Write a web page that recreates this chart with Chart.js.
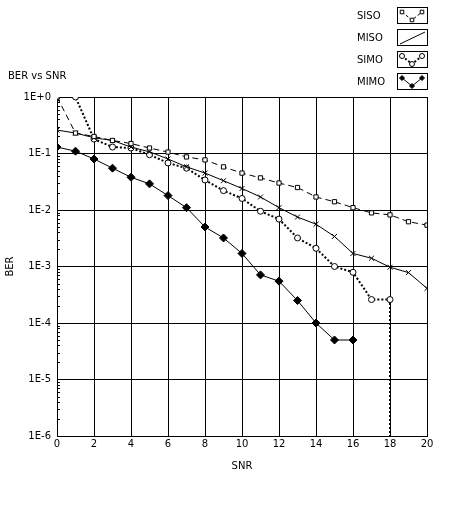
<!DOCTYPE html>
<html><head>
<script src="https://cdn.jsdelivr.net/npm/chart.js@4.4.1/dist/chart.umd.min.js"></script>
<style>body{margin:0;background:#fff}#wrap{width:452px;height:506px;position:relative}</style>
</head><body>
<div id="wrap"><canvas id="c" width="452" height="506"></canvas></div>
<script>
const snr = [0,1,2,3,4,5,6,7,8,9,10,11,12,13,14,15,16,17,18,19,20];
const siso = [1,0.23,0.2,0.17,0.15,0.125,0.106,0.087,0.077,0.058,0.045,0.037,0.03,0.025,0.017,0.014,0.011,0.0089,0.0082,0.0062,0.0054];
const miso = [0.26,0.23,0.19,0.17,0.13,0.107,0.08,0.058,0.045,0.033,0.024,0.017,0.011,0.0075,0.0056,0.0034,0.0017,0.0014,0.00097,0.00078,0.00041];
const simoX = [0,1,2,3,4,5,6,7,8,9,10,11,12,13,14,15,16,17,18,18];
const simo = [1,1,0.18,0.13,0.125,0.095,0.068,0.055,0.034,0.022,0.016,0.0095,0.0069,0.0032,0.0021,0.001,0.00079,0.00026,0.00026,0.000001];
const mimo = [0.13,0.11,0.08,0.055,0.038,0.029,0.018,0.011,0.005,0.0032,0.0017,0.00071,0.00055,0.00025,0.0001,0.00005,0.00005];
const yTicks = [1,1e-1,1e-2,1e-3,1e-4,1e-5,1e-6];
const yLabels = ['1E+0','1E-1','1E-2','1E-3','1E-4','1E-5','1E-6'];
const xTicks = [0,2,4,6,8,10,12,14,16,18,20];
const legendNames = ['SISO','MISO','SIMO','MIMO'];

const pts = (xs, ys) => ys.map((v, i) => ({x: xs[i], y: v}));
const FONT = 'DejaVu Sans';

const sets = [
  {label:'SISO', data: pts(snr, siso), borderColor:'#000', borderWidth:1, borderDash:[6,4],
   pointStyle:'rect', pointRadius:3, pointBackgroundColor:'#fff', pointBorderColor:'#000', pointBorderWidth:1},
  {label:'MISO', data: pts(snr, miso), borderColor:'#000', borderWidth:1,
   pointStyle:'crossRot', pointRadius:3.5, pointBorderColor:'#000', pointBorderWidth:1},
  {label:'SIMO', data: pts(simoX, simo), borderColor:'#000', borderWidth:2, borderDash:[2,2],
   pointStyle:'circle', pointRadius: simo.map((v, i) => i === simo.length - 1 ? 0 : 3),
   pointBackgroundColor:'#fff', pointBorderColor:'#000', pointBorderWidth:1},
  {label:'MIMO', data: pts(snr, mimo), borderColor:'#000', borderWidth:1,
   pointStyle:'rectRot', pointRadius:4, pointBackgroundColor:'#000', pointBorderColor:'#000'}
];

const extras = {
  id:'extras',
  afterDraw(chart){
    const ctx = chart.ctx, a = chart.chartArea, y = chart.scales.y;
    ctx.save();
    // minor ticks on the y axis
    ctx.strokeStyle = '#000'; ctx.lineWidth = 1;
    for (let e = 0; e > -6; e--) {
      for (let m = 2; m <= 9; m++) {
        const py = Math.round(y.getPixelForValue(m * Math.pow(10, e - 1))) + 0.5;
        ctx.beginPath(); ctx.moveTo(a.left, py); ctx.lineTo(a.left + 3, py); ctx.stroke();
      }
    }
    // title
    ctx.fillStyle = '#000'; ctx.font = '10px ' + FONT; ctx.textBaseline = 'middle';
    ctx.fillText('BER vs SNR', 8, 76);
    // legend
    legendNames.forEach((n, i) => {
      const cy = 16 + i * 22, ds = chart.data.datasets[i];
      ctx.fillStyle = '#000'; ctx.textAlign = 'left';
      ctx.fillText(n, 357, cy);
      ctx.strokeStyle = '#000'; ctx.lineWidth = 1; ctx.setLineDash([]);
      ctx.strokeRect(397.5, cy - 8.5, 30, 16);
      const xs = [402, 412, 422], ys = [cy - 4, cy + 4, cy - 4];
      ctx.lineWidth = ds.borderWidth; ctx.setLineDash(i === 0 ? [3, 2] : (ds.borderDash || []));
      ctx.beginPath();
      if (i === 1) { ctx.moveTo(400, cy + 6); ctx.lineTo(425, cy - 6); }
      else { ctx.moveTo(xs[0], ys[0]); ctx.lineTo(xs[1], ys[1]); ctx.lineTo(xs[2], ys[2]); }
      ctx.stroke(); ctx.setLineDash([]);
      if (i !== 1) xs.forEach((px, k) => {
        ctx.fillStyle = i === 3 ? '#000' : '#fff'; ctx.strokeStyle = '#000'; ctx.lineWidth = 1;
        Chart.helpers.drawPoint(ctx, { pointStyle: ds.pointStyle, radius: 2.5, borderWidth: 1, rotation: 0 }, px, ys[k]);
      });
    });
    ctx.restore();
  }
};

Chart.defaults.font.family = FONT;
Chart.defaults.font.size = 10;
Chart.defaults.color = '#000';

new Chart(document.getElementById('c'), {
  type: 'line',
  data: { datasets: sets },
  options: {
    responsive: false, animation: false,
    layout: { padding: { top: 97, right: 25, bottom: 30, left: 0 } },
    plugins: { legend: { display: false }, tooltip: { enabled: false } },
    elements: { line: { tension: 0 } },
    scales: {
      x: {
        type: 'linear', min: 0, max: 20,
        afterBuildTicks: s => { s.ticks = xTicks.map(v => ({value: v})); },
        afterFit: s => { s.height = 40; },
        ticks: { padding: 2, color: '#000' },
        grid: { color: '#000', lineWidth: 1, drawTicks: false },
        border: { color: '#000' },
        title: { display: true, text: 'SNR', padding: { top: 2 } }
      },
      y: {
        type: 'logarithmic', min: 1e-6, max: 1,
        afterBuildTicks: s => { s.ticks = yTicks.map(v => ({value: v})); },
        afterFit: s => { s.width = 57; },
        ticks: { padding: 6, color: '#000', callback: (v) => yLabels[yTicks.findIndex(t => Math.abs(Math.log10(t) - Math.log10(v)) < 1e-6)] },
        grid: { color: '#000', lineWidth: 1, drawTicks: false },
        border: { color: '#000' },
        title: { display: true, text: 'BER', padding: { bottom: 4 } }
      }
    }
  },
  plugins: [extras]
});
</script>
</body></html>
